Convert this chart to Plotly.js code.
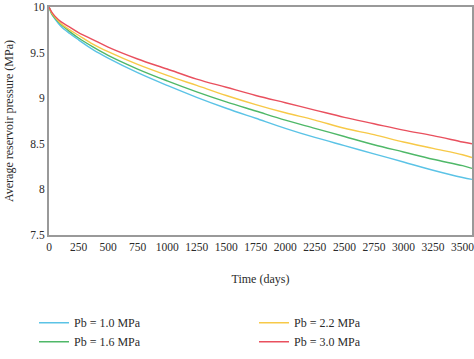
<!DOCTYPE html>
<html>
<head>
<meta charset="utf-8">
<script src="https://cdn.plot.ly/plotly-3.0.1.min.js"></script>
<style>html,body{margin:0;padding:0;background:#fff;}#chart{width:474px;height:359px;}</style>
</head>
<body>
<div id="chart"></div>
<script>
var days = [0, 25, 50, 100, 175, 250, 375, 500, 750, 1000, 1250, 1500, 1750, 2000, 2250, 2500, 2750, 3000, 3250, 3500, 3580];
var pb10 = [10, 9.92, 9.87, 9.79, 9.71, 9.64, 9.53, 9.44, 9.28, 9.14, 9.01, 8.89, 8.78, 8.67, 8.57, 8.48, 8.39, 8.30, 8.21, 8.13, 8.11];
var pb16 = [10, 9.92, 9.88, 9.81, 9.73, 9.66, 9.56, 9.47, 9.32, 9.19, 9.07, 8.96, 8.86, 8.76, 8.67, 8.58, 8.49, 8.41, 8.33, 8.26, 8.23];
var pb22 = [10, 9.93, 9.89, 9.82, 9.75, 9.69, 9.59, 9.51, 9.37, 9.25, 9.14, 9.03, 8.93, 8.84, 8.76, 8.67, 8.60, 8.52, 8.45, 8.38, 8.35];
var pb30 = [10, 9.94, 9.90, 9.84, 9.78, 9.72, 9.64, 9.56, 9.43, 9.32, 9.21, 9.12, 9.03, 8.95, 8.87, 8.79, 8.72, 8.65, 8.59, 8.52, 8.50];
var seriesNames = ["Pb = 1.0 MPa", "Pb = 1.6 MPa", "Pb = 2.2 MPa", "Pb = 3.0 MPa"];
var xTicks = [0, 250, 500, 750, 1000, 1250, 1500, 1750, 2000, 2250, 2500, 2750, 3000, 3250, 3500];
var yTicks = [7.5, 8, 8.5, 9, 9.5, 10];
var yTickText = ["7.5", "8", "8.5", "9", "9.5", "10"];

var colors = ["#5bc3e6", "#4fb868", "#f7c948", "#e9505e"];
var ranks = [1, 3, 2, 4];
var ys = [pb10, pb16, pb22, pb30];
var traces = ys.map(function (y, i) {
  return {
    x: days, y: y, name: seriesNames[i], type: "scatter", mode: "lines",
    line: {color: colors[i], width: 1.4, shape: "spline", smoothing: 1},
    legendrank: ranks[i]
  };
});

var fam = "'Liberation Serif', 'DejaVu Serif', serif";
var layout = {
  width: 474, height: 359,
  margin: {l: 49, r: 2, t: 6.5, b: 112},
  paper_bgcolor: "#fff", plot_bgcolor: "#fff",
  font: {family: fam, color: "#2b2b2b", size: 11.5},
  showlegend: true,
  xaxis: {
    range: [0, 3580], tickvals: xTicks, ticktext: xTicks.map(String),
    showgrid: false, zeroline: false, showline: true, mirror: true,
    linecolor: "#999", linewidth: 2, ticks: "", ticklabeloverflow: "allow",
    tickfont: {size: 11.5},
    title: {text: "Time (days)", font: {size: 12}, standoff: 23}
  },
  yaxis: {
    range: [7.5, 10], tickvals: yTicks, ticktext: yTickText,
    showgrid: false, zeroline: false, showline: true, mirror: true,
    linecolor: "#999", linewidth: 2, ticks: "", ticklabeloverflow: "allow",
    tickfont: {size: 11.5},
    title: {text: "Average reservoir pressure (MPa)", font: {size: 12}, standoff: 14}
  },
  legend: {
    orientation: "h", x: -0.028, xanchor: "left", y: -0.321, yanchor: "top",
    entrywidth: 175, entrywidthmode: "pixels",
    font: {size: 12}, bgcolor: "rgba(0,0,0,0)", traceorder: "normal"
  }
};

Plotly.newPlot("chart", traces, layout, {displayModeBar: false, staticPlot: true});
</script>
</body>
</html>
